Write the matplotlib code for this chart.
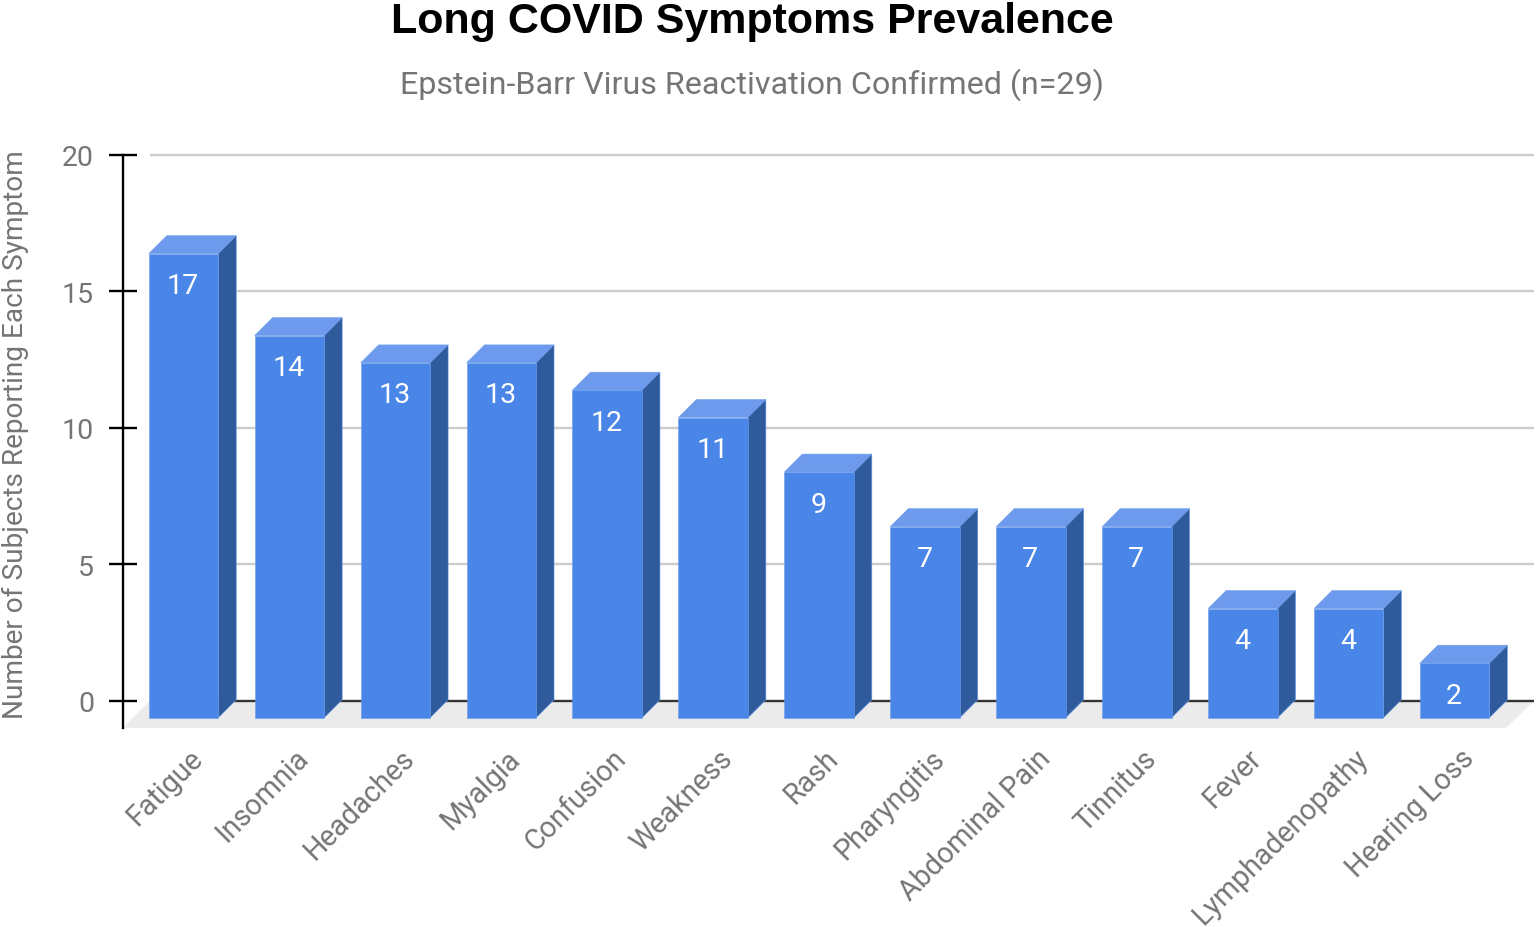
import matplotlib
matplotlib.use("Agg")
import matplotlib.pyplot as plt
from matplotlib.patches import Polygon
from matplotlib.transforms import ScaledTranslation

symptoms = ["Fatigue", "Insomnia", "Headaches", "Myalgia", "Confusion", "Weakness", "Rash",
            "Pharyngitis", "Abdominal Pain", "Tinnitus", "Fever", "Lymphadenopathy", "Hearing Loss"]
counts = [17, 14, 13, 13, 12, 11, 9, 7, 7, 7, 4, 4, 2]
y_ticks = [0, 5, 10, 15, 20]

TITLE = "Long COVID Symptoms Prevalence"
SUBTITLE = "Epstein-Barr Virus Reactivation Confirmed (n=29)"
YLABEL = "Number of Subjects Reporting Each Symptom"

FRONT = "#4a86e8"
TOP = "#6d9aec"
SIDE = "#2f5a9c"
EDGE = "#6d9eeb"
FLOOR = "#ebebeb"
GRID = "#cccccc"
GREY = "#757575"

PX_X = 105.93
PX_Y = 27.3
BAR_W = 69.5 / PX_X
DX = 18.0 / PX_X      # depth of the fake 3d, x units
DY = 18.0 / PX_Y      # same in y units
BASE = -17.0 / PX_Y   # where the front faces stand

plt.rcParams["font.family"] = ["Roboto", "DejaVu Sans"]

W, H = 1536, 928
fig = plt.figure(figsize=(W / 100, H / 100), dpi=100)
ax = fig.add_axes([123 / W, (H - 728.8) / H, (1534 - 123) / W, (728 - 155) / H])

x_min = (123 - 183.5) / PX_X
x_max = (1534 - 183.5) / PX_X
y_min = -27.0 / PX_Y
ax.set_xlim(x_min, x_max)
ax.set_ylim(y_min, 20)

# floor
ax.add_patch(Polygon([(x_min, y_min), (x_max - 28 / PX_X, y_min), (x_max, 0), (x_min + 27 / PX_X, 0)],
                     closed=True, facecolor=FLOOR, edgecolor="none", zorder=1))

# grid starts at the back plane, not at the axis
for t in y_ticks:
    ax.hlines(t, x_min + 27 / PX_X, x_max, color="#333333" if t == 0 else GRID,
              linewidth=1.7, zorder=2, clip_on=False)

for i, v in enumerate(counts):
    left = i - BAR_W / 2
    right = i + BAR_W / 2
    top = BASE + v
    ax.bar(i, v, width=BAR_W, bottom=BASE, color=FRONT, edgecolor=EDGE, linewidth=0.4, zorder=4)
    ax.add_patch(Polygon([(left, top), (right, top), (right + DX, top + DY), (left + DX, top + DY)],
                         closed=True, facecolor=TOP, edgecolor=EDGE, linewidth=0.4, zorder=3))
    ax.add_patch(Polygon([(right, BASE), (right + DX, BASE + DY), (right + DX, top + DY), (right, top)],
                         closed=True, facecolor=SIDE, edgecolor=EDGE, linewidth=0.4, zorder=3))
    ax.annotate(str(v), (i - 0.005, top), xytext=(0, -23), textcoords="offset points",
                ha="center", va="center", color="white", fontsize=20.5, zorder=5)

for side in ["top", "right", "bottom"]:
    ax.spines[side].set_visible(False)
ax.spines["left"].set_linewidth(1.7)
ax.spines["left"].set_color("black")
ax.spines["left"].set_bounds(y_min, 20)
ax.spines["left"].set_zorder(6)

ax.set_yticks(y_ticks)
ax.tick_params(axis="y", direction="inout", length=19.5, width=1.7, color="black",
               labelsize=20.5, labelcolor=GREY, pad=11)
ax.set_xticks(range(len(symptoms)))
ax.set_xticklabels(symptoms, rotation=45, ha="right", va="top", rotation_mode="anchor",
                   fontsize=20.6, color=GREY)
ax.tick_params(axis="x", length=0, pad=12)
nudge = ScaledTranslation(5 / 100, 1 / 100, fig.dpi_scale_trans)
for lab in ax.get_xticklabels():
    lab.set_transform(lab.get_transform() + nudge)

fig.text(752 / W, 1 - 22 / H, TITLE, ha="center", va="center", fontsize=31,
         fontweight="bold", family=["Liberation Sans", "DejaVu Sans"], color="black")
fig.text(752 / W, 1 - 85 / H, SUBTITLE, ha="center", va="center", fontsize=23.2, color=GREY)
fig.text(15.5 / W, 1 - 435 / H, YLABEL, rotation=90, ha="center", va="center", fontsize=20.2, color=GREY)

fig.savefig("out.png", dpi=100)
